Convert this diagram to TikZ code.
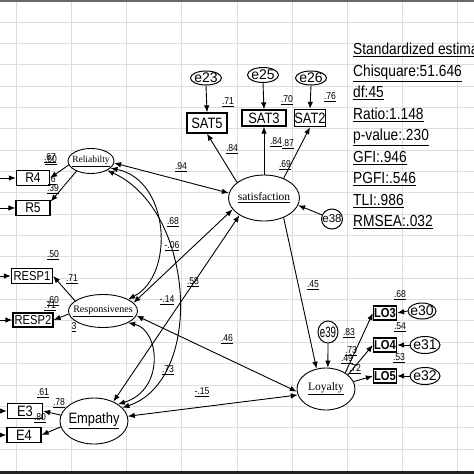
\documentclass[tikz,border=0pt]{standalone}
\usepackage{fontspec}
\usetikzlibrary{shapes.geometric,arrows.meta}
\setmainfont{Liberation Sans}
\newfontfamily\nsans[FakeStretch=0.86]{Liberation Sans}
\newfontfamily\pserif{Liberation Serif}
\newfontfamily\psans{Liberation Sans}
\definecolor{gridc}{RGB}{218,221,228}
\definecolor{topband}{RGB}{105,105,105}
\definecolor{botband}{RGB}{35,35,35}
\newcommand{\fs}[1]{\fontsize{#1}{#1}\selectfont}
\begin{document}
\begin{tikzpicture}[x=1pt,y=-1pt,
  lat/.style={ellipse,draw,line width=0.9pt,fill=white,inner sep=0pt},
  obs/.style={rectangle,draw,line width=1.3pt,fill=white,inner sep=0pt},
  err/.style={ellipse,draw,line width=1pt,fill=white,inner sep=0pt},
  txt/.style={inner sep=0pt},
  lbl/.style={inner sep=0pt,font=\nsans\fs{10}},
  arr/.style={-{Latex[length=7pt,width=5.5pt]},line width=0.9pt},
  dbl/.style={{Latex[length=7pt,width=5.5pt]}-{Latex[length=7pt,width=5.5pt]},line width=0.9pt},
  stat/.style={anchor=base west,inner sep=0pt,font=\nsans\fs{16}}]
\useasboundingbox (0,0) rectangle (474,474);
\fill[white] (0,0) rectangle (474,474);
\foreach \k in {0,...,8} \draw[gridc,line width=0.9pt] ({16.3+55.2*\k},0) -- ({16.3+55.2*\k},474);
\foreach \k in {0,...,20} \draw[gridc,line width=0.9pt] (0,{22+21.35*\k}) -- (474,{22+21.35*\k});
\fill[topband] (0,0) rectangle (474,2);
\fill[botband] (0,471) rectangle (474,474);

% latent variables
\node[lat,minimum width=46,minimum height=25] (rel) at (91,161) {};
\node[txt,font=\pserif\fs{9.5}] (relt) at (rel) {\underline{Reliabilty}};
\node[lat,minimum width=69,minimum height=33] (resp) at (103,311) {};
\node[txt,font=\pserif\fs{10}] (respt) at (resp) {\underline{Responsivenes}};
\node[lat,minimum width=68,minimum height=46] (emp) at (94,421) {};
\node[txt,font=\nsans\fs{15}] (empt) at (emp) {\underline{Empathy}};
\node[lat,minimum width=71,minimum height=46] (sat) at (264,198) {};
\node[txt,font=\pserif\fs{11.5}] (satt) at (sat) {\underline{satisfaction}};
\node[lat,minimum width=58,minimum height=42] (loy) at (326,389) {};
\node[txt,font=\pserif\fs{11.5}] (loyt) at (loy) {\underline{Loyalty}};

% observed variables
\node[obs,minimum width=33,minimum height=15] (r4) at (33,178) {};
\node[txt,font=\nsans\fs{14}] (r4t) at (r4) {R4};
\node[obs,minimum width=34,minimum height=15] (r5) at (33,208) {};
\node[txt,font=\nsans\fs{14}] (r5t) at (r5) {R5};
\node[obs,minimum width=41,minimum height=15] (resp1) at (32,276) {};
\node[txt,font=\nsans\fs{13}] (resp1t) at (resp1) {RESP1};
\node[obs,minimum width=40,minimum height=14] (resp2) at (33,320) {};
\node[txt,font=\nsans\fs{13}] (resp2t) at (resp2) {RESP2};
\node[obs,minimum width=35,minimum height=15] (obsE3) at (25,411) {};
\node[txt,font=\nsans\fs{15}] (obsE3t) at (obsE3) {E3};
\node[obs,minimum width=34,minimum height=15] (obsE4) at (24,435) {};
\node[txt,font=\nsans\fs{15}] (obsE4t) at (obsE4) {E4};
\node[obs,minimum width=40,minimum height=20] (sat5) at (207,123) {};
\node[txt,font=\nsans\fs{15}] (sat5t) at (sat5) {SAT5};
\node[obs,minimum width=44,minimum height=16] (sat3) at (264,118) {};
\node[txt,font=\nsans\fs{15}] (sat3t) at (sat3) {SAT3};
\node[obs,minimum width=31,minimum height=17] (sat2) at (310,118) {};
\node[txt,font=\nsans\fs{15}] (sat2t) at (sat2) {SAT2};
\node[obs,minimum width=23,minimum height=14] (lo3) at (385,313) {};
\node[txt,font=\nsans\bfseries\fs{13}] (lo3t) at (lo3) {LO3};
\node[obs,minimum width=23,minimum height=14] (lo4) at (385,345) {};
\node[txt,font=\nsans\bfseries\fs{13}] (lo4t) at (lo4) {LO4};
\node[obs,minimum width=23,minimum height=14] (lo5) at (385,376) {};
\node[txt,font=\nsans\bfseries\fs{13}] (lo5t) at (lo5) {LO5};

% error terms
\node[err,minimum width=31,minimum height=14] (e23) at (206,78) {};
\node[txt,font=\psans\fs{14}] (e23t) at (e23) {e23};
\node[err,minimum width=31,minimum height=15] (e25) at (263,75) {};
\node[txt,font=\psans\fs{14}] (e25t) at (e25) {e25};
\node[err,minimum width=31,minimum height=14] (e26) at (311,78) {};
\node[txt,font=\psans\fs{14}] (e26t) at (e26) {e26};
\node[err,minimum width=21,minimum height=20] (e38) at (332,219) {};
\node[txt,font=\psans\fs{11.5}] (e38t) at (e38) {e38};
\node[err,minimum width=20,minimum height=22] (e39) at (328,332) {};
\node[txt,font=\nsans\fs{15}] (e39t) at (e39) {\scalebox{0.75}[1]{e39}};
\node[err,minimum width=28,minimum height=16] (e30) at (422,311) {};
\node[txt,font=\psans\fs{14}] (e30t) at (e30) {e30};
\node[err,minimum width=30,minimum height=17] (e31) at (425,345) {};
\node[txt,font=\psans\fs{14}] (e31t) at (e31) {e31};
\node[err,minimum width=30,minimum height=17] (e32) at (425,376) {};
\node[txt,font=\psans\fs{14}] (e32t) at (e32) {e32};

% free ends of error arrows entering from the left edge
\coordinate (lr4) at (0,178);
\coordinate (lr5) at (0,208);
\coordinate (lresp1) at (0,276);
\coordinate (lresp2) at (0,320);
\coordinate (le3) at (-2,411);
\coordinate (le4) at (-2,435);

\draw[arr] (lr4) -- (r4.west);
\draw[arr] (lr5) -- (r5.west);
\draw[arr] (lresp1) -- (resp1.west);
\draw[arr] (lresp2) -- (resp2.west);
\draw[arr] (le3) -- (obsE3.west);
\draw[arr] (le4) -- (obsE4.west);

% loadings
\draw[arr] (rel.190) -- (r4.east);
\draw[arr] (rel.215) -- (r5.20);
\draw[arr] (resp.160) -- (resp1.east);
\draw[arr] (resp.185) -- (resp2.east);
\draw[arr] (emp.170) -- (obsE3.east);
\draw[arr] (emp.190) -- (obsE4.east);
\draw[arr] (sat.150) -- (sat5.south);
\draw[arr] (sat.north) -- (sat3.south);
\draw[arr] (sat.45) -- (sat2.south);
\draw[arr] (loy.40) -- (lo3.west);
\draw[arr] (loy.33) -- (lo4.west);
\draw[arr] (loy.15) -- (lo5.west);

% errors
\draw[arr] (e23.south) -- (sat5.north);
\draw[arr] (e25.south) -- (sat3.north);
\draw[arr] (e26.south) -- (sat2.north);
\draw[arr] (e38) -- (sat.-12);
\draw[arr] (e39.south) -- (loy.85);
\draw[arr] (e30.west) -- (lo3.east);
\draw[arr] (e31.west) -- (lo4.east);
\draw[arr] (e32.west) -- (lo5.east);

% structural
\draw[arr] (sat.-45) -- (loy.115);
\draw[dbl] (rel.-5) -- (sat.172);
\draw[dbl] (resp.15) -- (sat.200);
\draw[dbl] (emp.45) -- (sat.215);
\draw[dbl] (resp.-8) -- (loy.185);
\draw[dbl] (emp.8) -- (loy.192);
\draw[dbl] (rel.-20) .. controls (170,180) and (175,275) .. (resp.25);
\draw[dbl] (rel.-30) .. controls (195,210) and (205,380) .. (emp.25);
\draw[dbl] (resp.-25) .. controls (160,330) and (165,390) .. (emp.35);

% coefficient labels
\node[lbl] (c94) at (181,167) {\underline{.94}};
\node[lbl] (c68) at (173,222) {\underline{.68}};
\node[lbl] (c06) at (172,246) {\underline{-.06}};
\node[lbl] (c58) at (193,282) {\underline{.58}};
\node[lbl] (c14) at (167,300) {\underline{-.14}};
\node[lbl] (c46) at (227,339) {\underline{.46}};
\node[lbl] (c73) at (168,370) {\underline{.73}};
\node[lbl] (c15) at (202,392) {\underline{-.15}};
\node[lbl] (c45) at (313,285) {\underline{.45}};
\node[lbl] (c84a) at (232,149) {\underline{.84}};
\node[lbl] (c84b) at (276,142) {\underline{.84}};
\node[lbl] (c87) at (288,144) {\underline{.87}};
\node[lbl] (c69) at (285,165) {\underline{.69}};
\node[lbl] (c71s) at (228,102) {\underline{.71}};
\node[lbl] (c70) at (287,100) {\underline{.70}};
\node[lbl] (c76) at (330,97) {\underline{.76}};
\node[lbl] (c83) at (349,333) {\underline{.83}};
\node[lbl] (c73l) at (351,351) {\underline{.73}};
\node[lbl] (c49) at (347,359) {\underline{.49}};
\node[lbl] (c72) at (355,369) {\underline{.72}};
\node[lbl] (c68l) at (400,295) {\underline{.68}};
\node[lbl] (c54) at (400,327) {\underline{.54}};
\node[lbl] (c53) at (399,358) {\underline{.53}};
\node[lbl] (c67) at (50,158) {\underline{.67}};
\node[lbl] (c60r) at (51,160) {\underline{.60}};
\node[lbl] (c6) at (52,180) {\underline{.6}};
\node[lbl] (c39) at (53,189) {\underline{.39}};
\node[lbl] (c50) at (53,255) {\underline{.50}};
\node[lbl] (c71r) at (72,279) {\underline{.71}};
\node[lbl] (c60) at (53,301) {\underline{.60}};
\node[lbl] (c71b) at (50,306) {\underline{.71}};
\node[lbl] (c3) at (74,327) {\underline{3}};
\node[lbl] (c61) at (43,393) {\underline{.61}};
\node[lbl] (c78) at (59,403) {\underline{.78}};
\node[lbl] (c80) at (40,418) {\underline{.80}};

% fit statistics
\node[stat] (s1) at (353,54.5) {\underline{Standardized estima}};
\node[stat] (s2) at (353,76) {\underline{Chisquare:51.646}};
\node[stat] (s3) at (353,97.6) {\underline{df:45}};
\node[stat] (s4) at (353,119.2) {\underline{Ratio:1.148}};
\node[stat] (s5) at (353,140.7) {\underline{p-value:.230}};
\node[stat] (s6) at (353,162.3) {\underline{GFI:.946}};
\node[stat] (s7) at (353,183.8) {\underline{PGFI:.546}};
\node[stat] (s8) at (353,205.4) {\underline{TLI:.986}};
\node[stat] (s9) at (353,226.9) {\underline{RMSEA:.032}};
\end{tikzpicture}
\end{document}
